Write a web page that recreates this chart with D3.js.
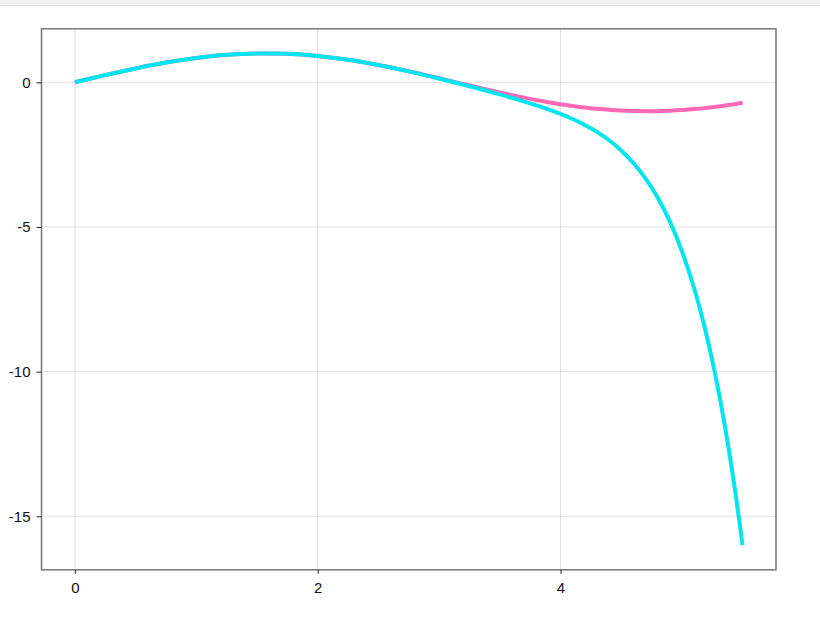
<!DOCTYPE html>
<html>
<head>
<meta charset="utf-8">
<script src="https://cdn.jsdelivr.net/npm/d3@7"></script>
<style>
  html, body { margin: 0; padding: 0; background: #fff; }
  svg { display: block; }
</style>
</head>
<body>
<svg id="chart" width="820" height="619"></svg>
<script>
// x positions of the sampled points
const xs = [0, 0.25, 0.5, 0.75, 1.0, 1.25, 1.5, 1.75, 2.0, 2.25, 2.5, 2.75, 3.0, 3.25,
            3.5, 3.75, 3.9, 4.0, 4.1, 4.2, 4.3, 4.4, 4.5, 4.6, 4.7, 4.8, 4.9, 5.0,
            5.1, 5.2, 5.3, 5.4, 5.5];
// pink series
const pinkValues = [0, 0.247, 0.479, 0.682, 0.841, 0.949, 0.997, 0.984, 0.909, 0.778, 0.598, 0.382,
                    0.141, -0.108, -0.351, -0.572, -0.688, -0.757, -0.818, -0.872, -0.916, -0.952,
                    -0.978, -0.994, -1.0, -0.996, -0.982, -0.959, -0.926, -0.883, -0.832, -0.773, -0.706];
// cyan series
const cyanValues = [0, 0.247, 0.479, 0.682, 0.841, 0.949, 0.997, 0.984, 0.909, 0.778, 0.598, 0.380,
                    0.130, -0.136, -0.418, -0.726, -0.935, -1.092, -1.268, -1.473, -1.714, -2.003,
                    -2.355, -2.787, -3.321, -3.983, -4.808, -5.834, -7.110, -8.689, -10.636, -13.05, -16.0];
const xTicks = [0, 2, 4];
const yTicks = [0, -5, -10, -15];
const yTickLabels = ["0", "-5", "-10", "-15"];

const svg = d3.select("#chart");
const W = 820, H = 619;
const mLeft = 41.5, mRight = 776, mTop = 28.8, mBottom = 569.8;

// top strip
svg.append("rect").attr("x", 0).attr("y", 0).attr("width", W).attr("height", 5).attr("fill", "#f3f3f3");
svg.append("line").attr("x1", 0).attr("x2", W).attr("y1", 5.5).attr("y2", 5.5).attr("stroke", "#e2e2e2").attr("stroke-width", 1);

const xmin = 0, xmax = 5.5;
const ymin = -16.0, ymax = 1.0;
const xpad = (xmax - xmin) * 0.05, ypad = (ymax - ymin) * 0.05;
const x = d3.scaleLinear().domain([xmin - xpad, xmax + xpad]).range([mLeft, mRight]);
const y = d3.scaleLinear().domain([ymin - ypad, ymax + ypad]).range([mBottom, mTop]);

// grid
const grid = svg.append("g");
grid.selectAll(".vg").data(xTicks).join("line")
  .attr("x1", d => x(d)).attr("x2", d => x(d)).attr("y1", mTop).attr("y2", mBottom)
  .attr("stroke", "#000").attr("stroke-opacity", 0.12).attr("stroke-width", 1);
grid.selectAll(".hg").data(yTicks).join("line")
  .attr("x1", mLeft).attr("x2", mRight).attr("y1", d => y(d)).attr("y2", d => y(d))
  .attr("stroke", "#000").attr("stroke-opacity", 0.12).attr("stroke-width", 1);

// lines
const pinkData = xs.map((v, i) => [v, pinkValues[i]]);
const cyanData = xs.map((v, i) => [v, cyanValues[i]]);
const line = d3.line().x(d => x(d[0])).y(d => y(d[1])).curve(d3.curveCatmullRom.alpha(0.5));
svg.append("path").datum(pinkData).attr("d", line)
  .attr("fill", "none").attr("stroke", "#ff69b4").attr("stroke-width", 4);
svg.append("path").datum(cyanData).attr("d", line)
  .attr("fill", "none").attr("stroke", "#00e5ee").attr("stroke-width", 4);

// frame
svg.append("rect").attr("x", mLeft).attr("y", mTop).attr("width", mRight - mLeft).attr("height", mBottom - mTop)
  .attr("fill", "none").attr("stroke", "#777").attr("stroke-width", 1.5);

// axes
const xAxis = d3.axisBottom(x).tickValues(xTicks).tickSize(4).tickPadding(9).tickFormat(d3.format("d"));
const gx = svg.append("g").attr("transform", `translate(0,${mBottom})`).call(xAxis);
gx.select(".domain").remove();
const yAxis = d3.axisLeft(y).tickValues(yTicks).tickSize(5).tickPadding(6)
  .tickFormat((d, i) => yTickLabels[i]);
const gy = svg.append("g").attr("transform", `translate(${mLeft},0)`).call(yAxis);
gy.select(".domain").remove();
svg.selectAll(".tick line").attr("stroke", "#222").attr("stroke-width", 1);
svg.selectAll(".tick text").attr("font-family", "'Liberation Sans', Arial, sans-serif")
  .attr("font-size", 15).attr("fill", "#111");
</script>
</body>
</html>
